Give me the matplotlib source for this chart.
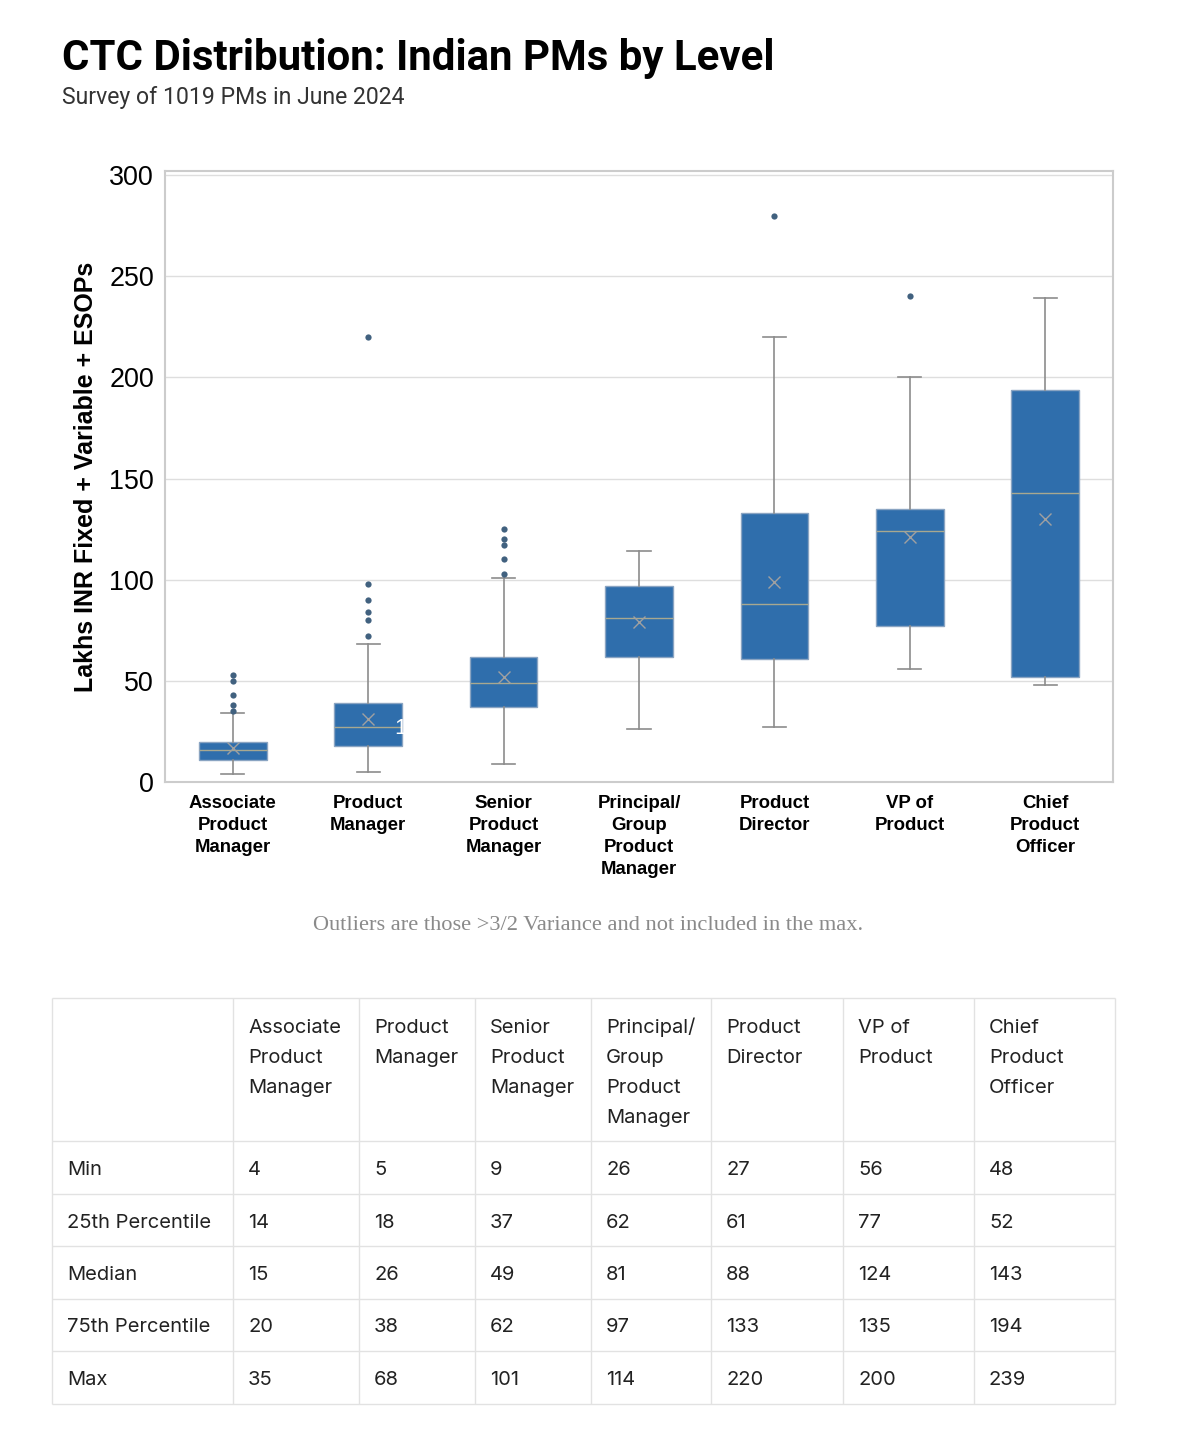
import matplotlib
matplotlib.use('Agg')
import matplotlib.pyplot as plt

# ---------------- data ----------------
levels = ["Associate\nProduct\nManager", "Product\nManager", "Senior\nProduct\nManager",
          "Principal/\nGroup\nProduct\nManager", "Product\nDirector", "VP of\nProduct",
          "Chief\nProduct\nOfficer"]

# box plot values as drawn in the chart
box_min = [4, 5, 9, 26, 27, 56, 48]
box_q1 = [11, 18, 37, 62, 61, 77, 52]
box_med = [16, 27, 49, 81, 88, 124, 143]
box_q3 = [20, 39, 62, 97, 133, 135, 194]
box_max = [34, 68, 101, 114, 220, 200, 239]
box_mean = [17, 31, 52, 79, 99, 121, 130]
outliers = [[35, 38, 43, 50, 53],
            [72, 80, 84, 90, 98, 220],
            [103, 110, 117, 120, 125],
            [],
            [280],
            [240],
            []]

yticks = [0, 50, 100, 150, 200, 250, 300]

# table values
row_names = ["Min", "25th Percentile", "Median", "75th Percentile", "Max"]
tbl_min = [4, 5, 9, 26, 27, 56, 48]
tbl_p25 = [14, 18, 37, 62, 61, 77, 52]
tbl_med = [15, 26, 49, 81, 88, 124, 143]
tbl_p75 = [20, 38, 62, 97, 133, 135, 194]
tbl_max = [35, 68, 101, 114, 220, 200, 239]

title = "CTC Distribution: Indian PMs by Level"
subtitle = "Survey of 1019 PMs in June 2024"
ylabel = "Lakhs INR Fixed + Variable + ESOPs"
caption = "Outliers are those >3/2 Variance and not included in the max."

# ---------------- figure ----------------
W, H = 1182, 1454
fig = plt.figure(figsize=(W / 100, H / 100), dpi=100)
fig.patch.set_facecolor('white')
renderer = fig.canvas.get_renderer()


def px(x0, y0, x1, y1):
    return [x0 / W, 1 - y1 / H, (x1 - x0) / W, (y1 - y0) / H]


ov = fig.add_axes([0, 0, 1, 1], zorder=5)
ov.set_xlim(0, W)
ov.set_ylim(H, 0)
ov.axis('off')
ov.patch.set_alpha(0)


def fit(sample, target, **kw):
    t = ov.text(0, 0, sample, fontsize=20, **kw)
    w = t.get_window_extent(renderer).width
    t.remove()
    return 20 * target / w


ax = fig.add_axes(px(165, 171, 1113, 782))
stats = []
for i in range(len(levels)):
    stats.append(dict(label=levels[i], whislo=box_min[i], q1=box_q1[i], med=box_med[i],
                      q3=box_q3[i], whishi=box_max[i], mean=box_mean[i], fliers=outliers[i]))

pos = list(range(1, len(levels) + 1))
ax.bxp(stats, positions=pos, widths=0.5, patch_artist=True, showmeans=True, capwidths=0.17,
       boxprops=dict(facecolor='#2f6eac', edgecolor='#8aa4c2', linewidth=1),
       medianprops=dict(color='#a8a890', linewidth=1),
       whiskerprops=dict(color='#8c8c8c', linewidth=1.2),
       capprops=dict(color='#8c8c8c', linewidth=1.2),
       flierprops=dict(marker='o', markersize=4.5, markerfacecolor='#41617f',
                       markeredgecolor='none'),
       meanprops=dict(marker='x', markersize=8, markeredgecolor='#a0a0a0',
                      markeredgewidth=1))

ax.set_xlim(0.5, len(levels) + 0.5)
ax.set_ylim(0, 302)
ax.set_yticks(yticks)
ax.grid(axis='y', color='#dedede', linewidth=1)
ax.set_axisbelow(True)
for s in ax.spines.values():
    s.set_color('#cccccc')
    s.set_linewidth(1.5)

tick_fs = fit("300", 45, family='Liberation Sans')
xt_fs = fit("Associate", 88, family='Liberation Sans', weight='bold')
ax.tick_params(axis='y', length=0, pad=8, labelsize=tick_fs)
ax.set_yticklabels([str(v) for v in yticks], family='Liberation Sans', fontsize=tick_fs)
ax.set_xticks(pos)
ax.set_xticklabels(levels, family='Liberation Sans', weight='bold', fontsize=xt_fs,
                   linespacing=1.4)
ax.tick_params(axis='x', length=0, pad=9)

# stray glyph in the original screenshot
ov.text(394, 729, "1", color='white', fontsize=16, family='Liberation Sans',
        ha='left', va='center', zorder=1)

# y label
yl_fs = fit(ylabel, 430, family='Liberation Sans', weight='bold')
ov.text(86, 477, ylabel, rotation=90, ha='center', va='center', family='Liberation Sans',
        weight='bold', fontsize=yl_fs, color='black')

# title / subtitle
t_fs = fit(title, 711, family='Roboto', weight='bold')
ov.text(62, 70, title, family='Roboto', weight='bold', fontsize=t_fs, color='black',
        ha='left', va='baseline')
s_fs = fit(subtitle, 341, family='Roboto')
ov.text(62, 104, subtitle, family='Roboto', fontsize=s_fs, color='#333333',
        ha='left', va='baseline')

# caption
c_fs = fit(caption, 550, family='Liberation Serif')
ov.text(588, 925, caption, family='Liberation Serif', fontsize=c_fs, color='#8a8a8a',
        ha='center', va='center')

# ---------------- table ----------------
col_edges = [52, 233, 359, 475, 591, 711, 843, 974, 1115]
row_edges = [998, 1141, 1194, 1246, 1299, 1351, 1404]
line_c = '#e2e2e2'
for x in col_edges:
    ov.plot([x, x], [row_edges[0], row_edges[-1]], color=line_c, lw=1, solid_capstyle='butt')
for y in row_edges:
    ov.plot([col_edges[0], col_edges[-1]], [y, y], color=line_c, lw=1, solid_capstyle='butt')

tb_fs = fit("Associate", 93, family='Inter')
txt_c = '#222222'
for j, lab in enumerate(levels):
    for k, line in enumerate(lab.split("\n")):
        ov.text(col_edges[j + 1] + 15, 1033 + 30 * k, line, family='Inter', fontsize=tb_fs,
                color=txt_c, ha='left', va='baseline')

table_rows = [tbl_min, tbl_p25, tbl_med, tbl_p75, tbl_max]
for r, (name, vals) in enumerate(zip(row_names, table_rows)):
    yb = (row_edges[r + 1] + row_edges[r + 2]) / 2 + 7.5
    ov.text(col_edges[0] + 15, yb, name, family='Inter', fontsize=tb_fs, color=txt_c,
            ha='left', va='baseline')
    for j, v in enumerate(vals):
        ov.text(col_edges[j + 1] + 15, yb, str(v), family='Inter', fontsize=tb_fs,
                color=txt_c, ha='left', va='baseline')

fig.savefig('out.png', dpi=100, facecolor='white')
